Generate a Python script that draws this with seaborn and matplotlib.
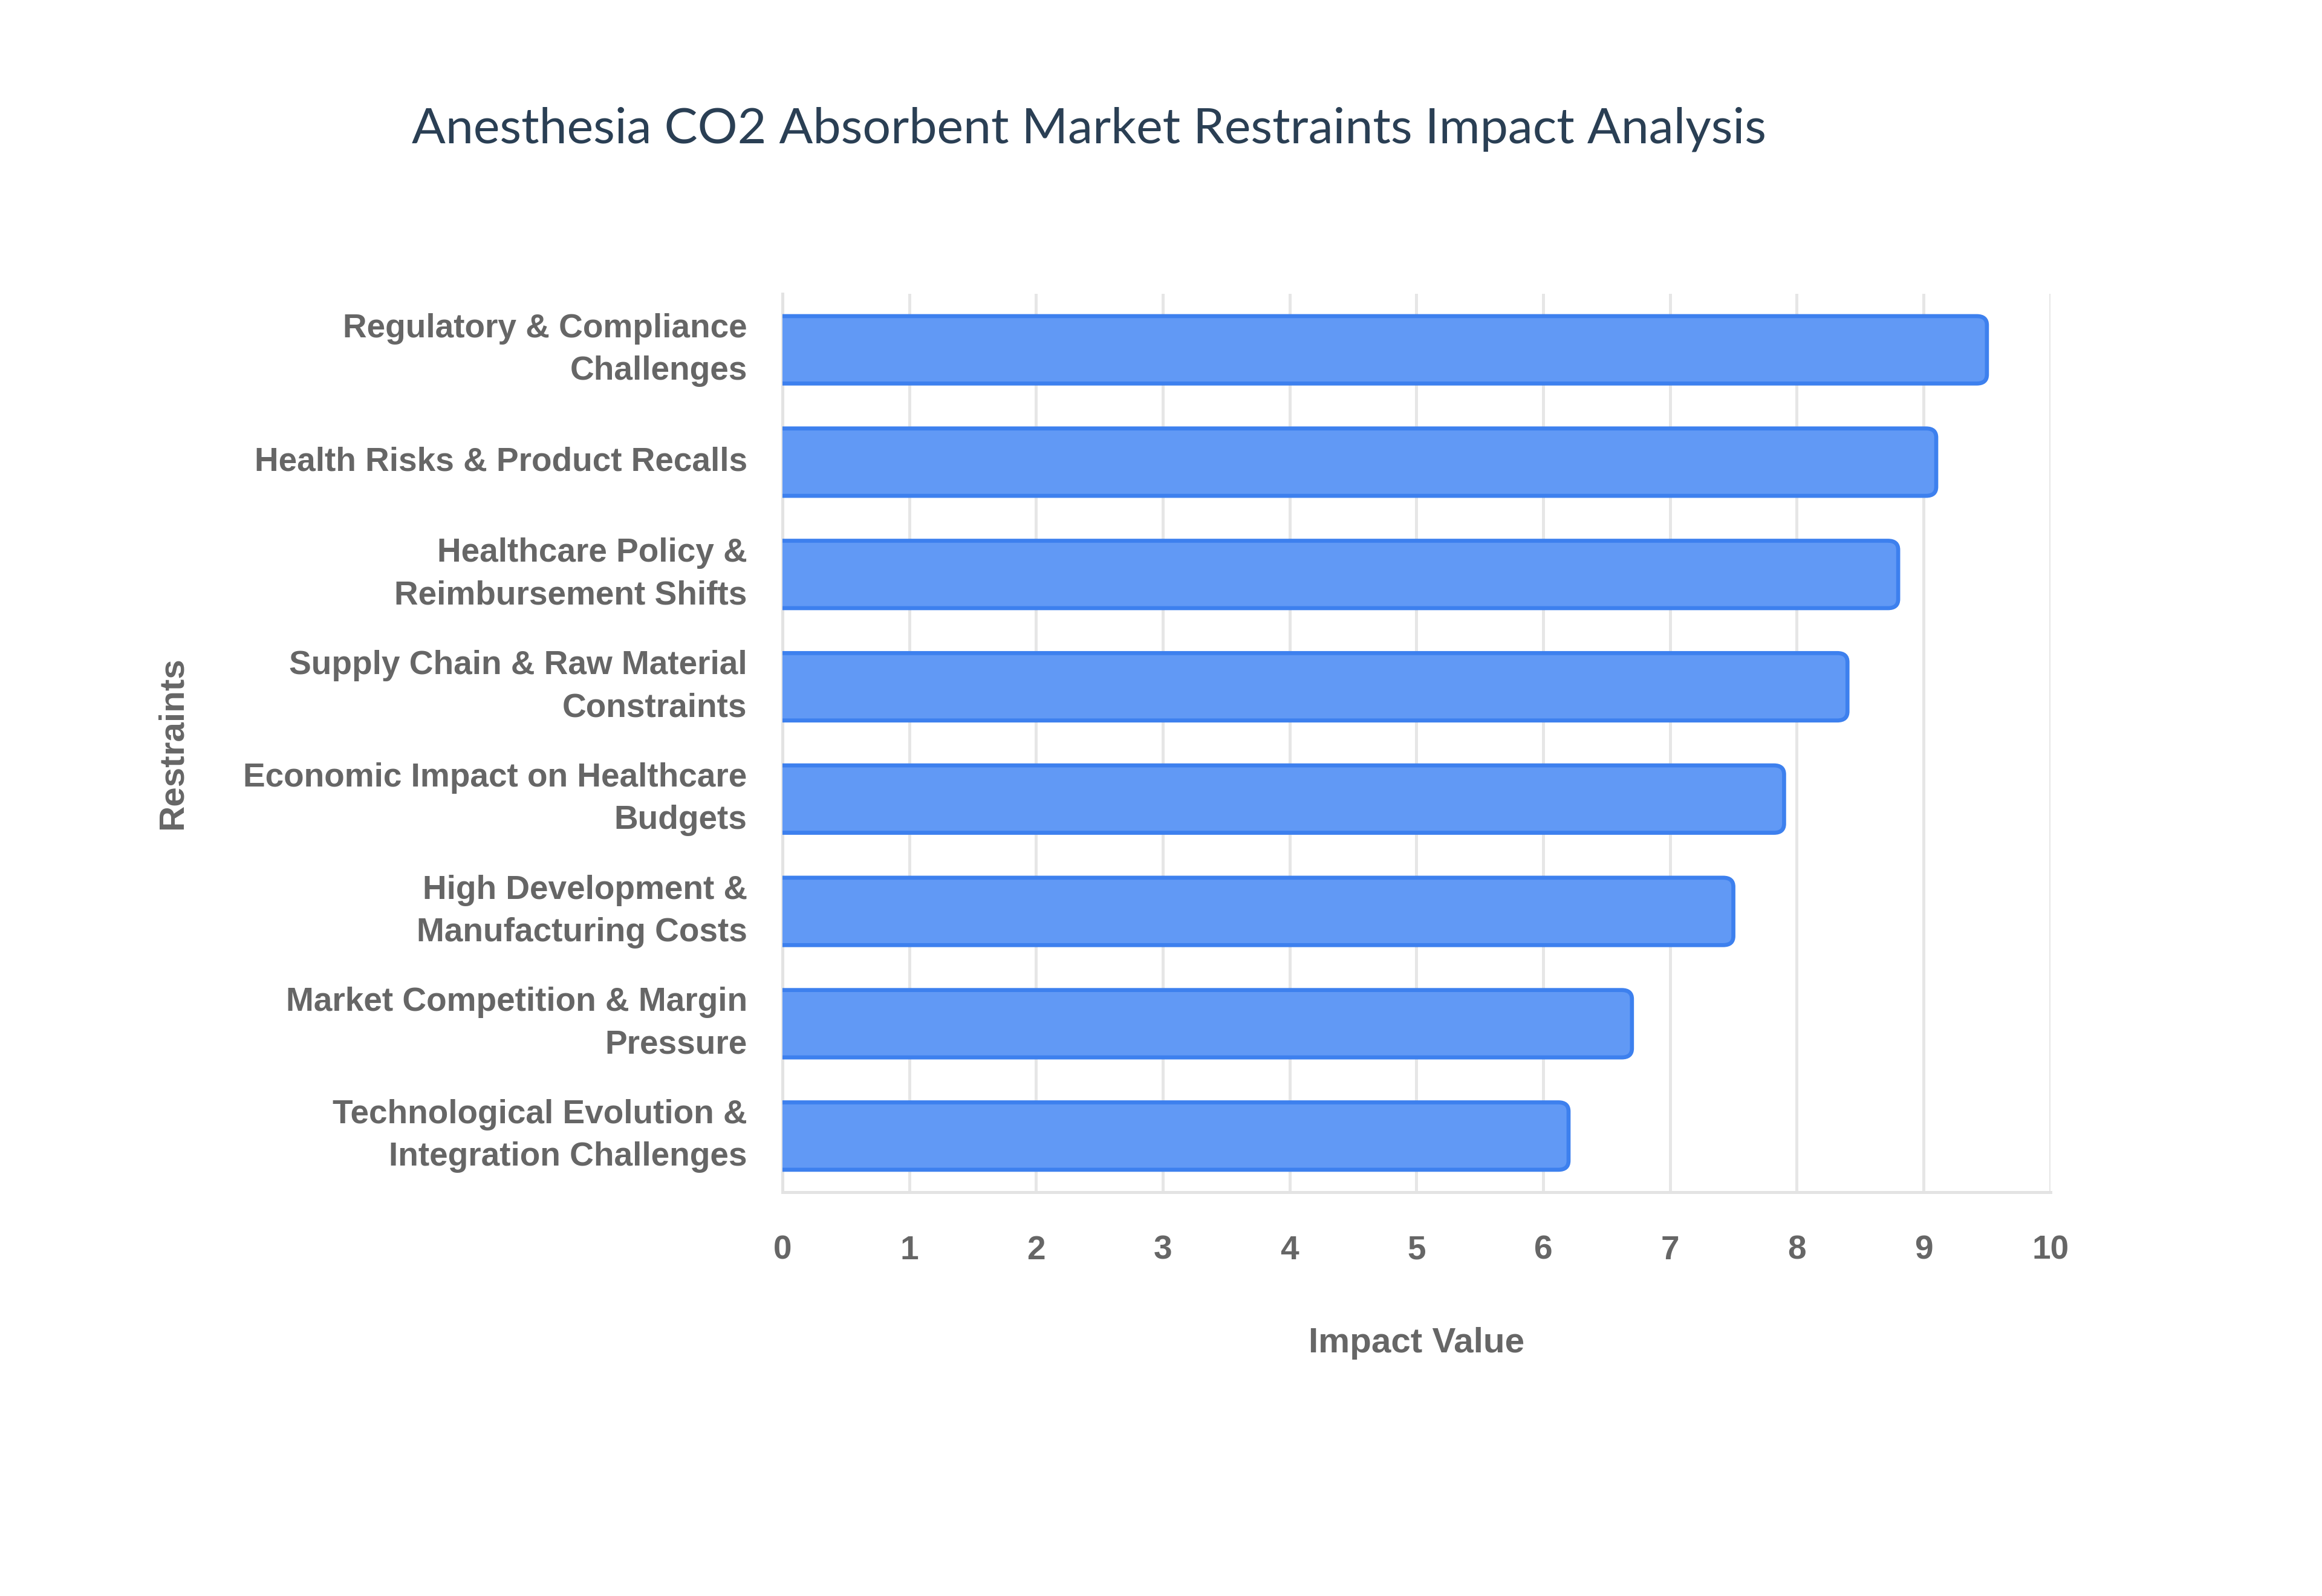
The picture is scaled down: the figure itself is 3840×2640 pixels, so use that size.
import pandas as pd
import matplotlib.pyplot as plt
import seaborn as sns
from matplotlib.patches import FancyBboxPatch

# Data
restraints = [
    "Regulatory & Compliance\nChallenges",
    "Health Risks & Product Recalls",
    "Healthcare Policy &\nReimbursement Shifts",
    "Supply Chain & Raw Material\nConstraints",
    "Economic Impact on Healthcare\nBudgets",
    "High Development &\nManufacturing Costs",
    "Market Competition & Margin\nPressure",
    "Technological Evolution &\nIntegration Challenges",
]
impact = [9.5, 9.1, 8.8, 8.4, 7.9, 7.5, 6.7, 6.2]

df = pd.DataFrame({"Restraints": restraints, "Impact Value": impact})

sns.set_style("white")
plt.rcParams["font.family"] = ["Liberation Sans", "DejaVu Sans"]

fig = plt.figure(figsize=(12.8, 8.8), dpi=300)
ax = fig.add_axes([0.337, 0.253, 0.546, 0.563])

sns.barplot(data=df, x="Impact Value", y="Restraints", orient="h",
            color="#6199f5", width=0.6, saturation=1, ax=ax)

# swap plain bars for rounded ones
for bar in list(ax.patches):
    x, y = bar.get_x(), bar.get_y()
    w, h = bar.get_width(), bar.get_height()
    bar.remove()
    rb = FancyBboxPatch((x - 0.3, y), w + 0.3, h,
                        boxstyle="round,pad=0,rounding_size=0.08",
                        mutation_aspect=1.0,
                        facecolor="#6199f5", edgecolor="#3d80ee",
                        linewidth=1.6, zorder=3, clip_on=True)
    ax.add_patch(rb)

ax.set_xlim(0, 10)
ax.set_ylim(7.5, -0.5)
ax.set_xticks(range(0, 11))
ax.grid(axis="x", color="#e6e6e6", linewidth=1.2, zorder=0)
ax.set_axisbelow(True)
for side in ["top", "right"]:
    ax.spines[side].set_visible(False)
for side in ["left", "bottom"]:
    ax.spines[side].set_color("#e3e3e3")
    ax.spines[side].set_linewidth(1.2)

ax.tick_params(axis="both", length=0, labelcolor="#666666", labelsize=13.2)
ax.tick_params(axis="x", pad=17)
ax.tick_params(axis="y", pad=14)
for lbl in ax.get_xticklabels() + ax.get_yticklabels():
    lbl.set_fontweight("bold")
for lbl in ax.get_yticklabels():
    lbl.set_linespacing(1.45)
    lbl.set_verticalalignment("center")

ax.set_xlabel("Impact Value", fontsize=14, fontweight="bold", color="#666666", labelpad=24)
ax.set_ylabel("Restraints", fontsize=14, fontweight="bold", color="#666666")
ax.yaxis.set_label_coords(-0.468, 0.5)

fig.text(0.469, 0.919, "Anesthesia CO2 Absorbent Market Restraints Impact Analysis",
         ha="center", va="center", fontsize=19.8, color="#2a3f54",
         family=["Lato", "DejaVu Sans"])

fig.savefig("out.png", dpi=300, facecolor="white")
